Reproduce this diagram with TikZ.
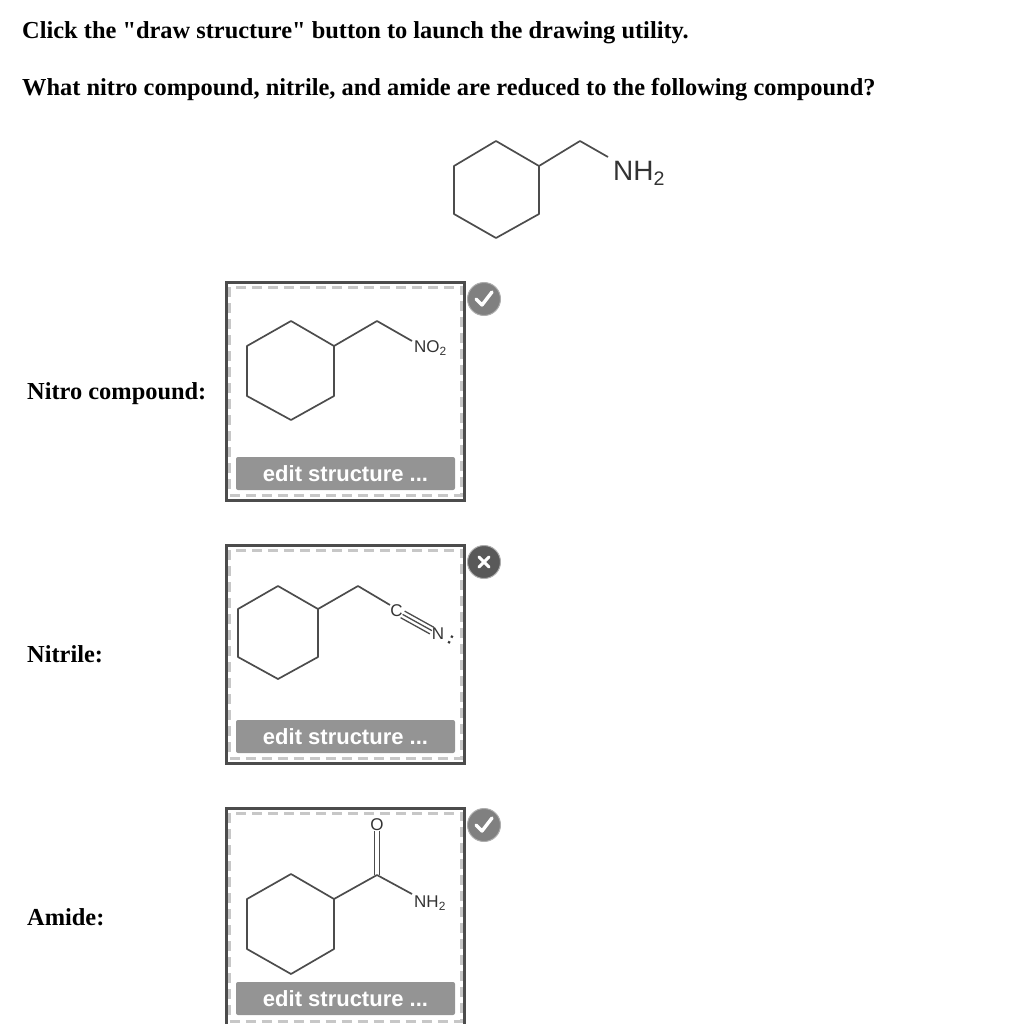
\documentclass[tikz,border=0pt]{standalone}
\usepackage{fontspec}
\newfontfamily\promptfont{Liberation Serif}
\newfontfamily\labelfont{Liberation Sans}
\usetikzlibrary{arrows}

\begin{document}
\begin{tikzpicture}[x = 1pt, y = -1pt]
\tikzstyle{PromptStyle}=[anchor = base west, inner sep = 0pt, font = \fontsize{24.4}{28}\selectfont\promptfont\bfseries]
\tikzstyle{AtomStyle}=[inner sep = 0pt, text = black!80, font = \fontsize{17}{20}\selectfont\labelfont]
\tikzstyle{BondStyle}=[draw = black!70, line width = 1.7pt, line join = round]
\tikzstyle{BoxStyle}=[shape = rectangle, minimum width = 238pt, minimum height = 218pt,
                      inner sep = 0pt, draw = black!70, line width = 3pt]
\tikzstyle{DashStyle}=[shape = rectangle, minimum width = 232pt, minimum height = 208pt,
                       inner sep = 0pt, draw = black!22, line width = 3pt, dash pattern = on 10pt off 6pt]
\tikzstyle{ButtonStyle}=[shape = rectangle, rounded corners = 2pt, minimum width = 219pt, minimum height = 33pt,
                         inner sep = 0pt, fill = black!42, text = white,
                         font = \fontsize{22}{26}\selectfont\labelfont\bfseries]
\tikzstyle{BadgeStyle}=[shape = circle, minimum size = 33pt, inner sep = 0pt, draw = black!32, line width = 1pt]
\tikzstyle{MarkStyle}=[draw = white, line width = 3.4pt, line cap = round, line join = round]
\useasboundingbox (0,0) rectangle (1024,1024);
\clip (0,0) rectangle (1024,1024);
% question
\node[PromptStyle] (q1) at (22,39) {Click the "draw structure" button to launch the drawing utility.};
\node[PromptStyle] (q2) at (22,96) {What nitro compound, nitrile, and amide are reduced to the following compound?};
\node[PromptStyle] (l1) at (27,399) {Nitro compound:};
\node[PromptStyle] (l2) at (27,662) {Nitrile:};
\node[PromptStyle] (l3) at (27,925) {Amide:};
% target compound
\coordinate (a0) at (496,141);
\coordinate (a1) at (539,166);
\coordinate (a2) at (539,214);
\coordinate (a3) at (496,238);
\coordinate (a4) at (454,214);
\coordinate (a5) at (454,166);
\coordinate (a6) at (580,141);
\coordinate (a7) at (608,157);
\node[AtomStyle, anchor = west, font = \fontsize{28}{33}\selectfont\labelfont] (aN) at (613,173) {NH\textsubscript{2}};
\draw[BondStyle] (a0) -- (a1) -- (a2) -- (a3) -- (a4) -- (a5) -- cycle;
\draw[BondStyle] (a1) -- (a6) -- (a7);
% nitro compound
\node[BoxStyle] (b0) at (345.5,391) {};
\node[DashStyle] (b1) at (345.5,391) {};
\node[ButtonStyle] (b2) at (345.5,473.5) {edit structure ...};
\node[BadgeStyle, fill = black!50] (b3) at (484,299) {};
\draw[MarkStyle] (476,299) -- (482,305) -- (492,292);
\coordinate (n0) at (291,321);
\coordinate (n1) at (334,346);
\coordinate (n2) at (334,396);
\coordinate (n3) at (291,420);
\coordinate (n4) at (247,396);
\coordinate (n5) at (247,346);
\coordinate (n6) at (377,321);
\coordinate (n7) at (412,341);
\node[AtomStyle, anchor = west] (nN) at (414,348) {NO\textsubscript{2}};
\draw[BondStyle] (n0) -- (n1) -- (n2) -- (n3) -- (n4) -- (n5) -- cycle;
\draw[BondStyle] (n1) -- (n6) -- (n7);
% nitrile
\node[BoxStyle] (c0) at (345.5,654) {};
\node[DashStyle] (c1) at (345.5,654) {};
\node[ButtonStyle] (c2) at (345.5,736.5) {edit structure ...};
\node[BadgeStyle, fill = black!65] (c3) at (484,562) {};
\draw[MarkStyle, line width = 3pt] (479,557) -- (489,567) (489,557) -- (479,567);
\coordinate (t0) at (278,586);
\coordinate (t1) at (318,609);
\coordinate (t2) at (318,657);
\coordinate (t3) at (278,679);
\coordinate (t4) at (238,657);
\coordinate (t5) at (238,609);
\coordinate (t6) at (358,586);
\coordinate (t7) at (390,605);
\node[AtomStyle] (tC) at (396.5,611) {C};
\node[AtomStyle] (tN) at (438,634) {N};
\node[AtomStyle, rotate = -27, font = \fontsize{17}{20}\selectfont\labelfont\bfseries] (tL) at (450.5,640) {:};
\draw[BondStyle] (t0) -- (t1) -- (t2) -- (t3) -- (t4) -- (t5) -- cycle;
\draw[BondStyle] (t1) -- (t6) -- (t7);
\draw[BondStyle, line width = 1.3pt, shorten >= 7pt, shorten <= 7pt] (tC.center) -- (tN.center);
\draw[BondStyle, line width = 1.3pt, shorten >= 7pt, shorten <= 7pt] ([xshift = 2pt, yshift = 3.3pt]tC.center) -- ([xshift = 2pt, yshift = 3.3pt]tN.center);
\draw[BondStyle, line width = 1.3pt, shorten >= 7pt, shorten <= 7pt] ([xshift = -2pt, yshift = -3.3pt]tC.center) -- ([xshift = -2pt, yshift = -3.3pt]tN.center);
% amide
\node[BoxStyle] (d0) at (345.5,917) {};
\node[DashStyle] (d1) at (345.5,917) {};
\node[ButtonStyle] (d2) at (345.5,998.5) {edit structure ...};
\node[BadgeStyle, fill = black!50] (d3) at (484,825) {};
\draw[MarkStyle] (476,825) -- (482,831) -- (492,818);
\coordinate (m0) at (291,874);
\coordinate (m1) at (334,899);
\coordinate (m2) at (334,949);
\coordinate (m3) at (291,974);
\coordinate (m4) at (247,949);
\coordinate (m5) at (247,899);
\coordinate (m6) at (377,875);
\coordinate (m7) at (412,894);
\node[AtomStyle, anchor = west] (mN) at (414,903) {NH\textsubscript{2}};
\node[AtomStyle] (mO) at (377,825) {O};
\draw[BondStyle] (m0) -- (m1) -- (m2) -- (m3) -- (m4) -- (m5) -- cycle;
\draw[BondStyle] (m1) -- (m6) -- (m7);
\draw[BondStyle] ([xshift = -2.4pt]m6) -- ([xshift = -2.4pt]mO.south);
\draw[BondStyle] ([xshift = 2.4pt]m6) -- ([xshift = 2.4pt]mO.south);
\end{tikzpicture}
\end{document}
